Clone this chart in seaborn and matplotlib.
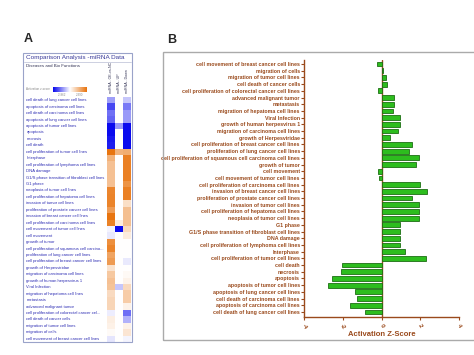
import matplotlib
matplotlib.use('Agg')
import matplotlib.pyplot as plt
import seaborn as sns
import numpy as np
import pandas as pd
from matplotlib.colors import LinearSegmentedColormap
from matplotlib.patches import Rectangle
from matplotlib.lines import Line2D

# functions, top to bottom as in panel B (panel A lists them in reverse)
functions = [
    'cell movement of breast cancer cell lines', 'migration of cells',
    'migration of tumor cell lines', 'cell death of cancer cells',
    'cell proliferation of colorectal cancer cell lines', 'advanced malignant tumor',
    'metastasis', 'migration of hepatoma cell lines', 'Viral Infection',
    'growth of human herpesvirus 1', 'migration of carcinoma cell lines',
    'growth of Herpesviridae', 'cell proliferation of breast cancer cell lines',
    'proliferation of lung cancer cell lines',
    'cell proliferation of squamous cell carcinoma cell lines', 'growth of tumor',
    'cell movement', 'cell movement of tumor cell lines',
    'cell proliferation of carcinoma cell lines', 'invasion of breast cancer cell lines',
    'proliferation of prostate cancer cell lines', 'invasion of tumor cell lines',
    'cell proliferation of hepatoma cell lines', 'neoplasia of tumor cell lines',
    'G1 phase', 'G1/S phase transition of fibroblast cell lines', 'DNA damage',
    'cell proliferation of lymphoma cell lines', 'Interphase',
    'cell proliferation of tumor cell lines', 'cell death', 'necrosis', 'apoptosis',
    'apoptosis of tumor cell lines', 'apoptosis of lung cancer cell lines',
    'cell death of carcinoma cell lines', 'apoptosis of carcinoma cell lines',
    'cell death of lung cancer cell lines',
]
z_oe = [-0.24, 0.08, 0.22, 0.26, -0.17, 0.66, 0.66, 0.57, 0.93, 0.98, 0.86, 0.45,
        1.57, 1.43, 1.93, 1.76, -0.20, -0.12, 1.97, 2.36, 1.55, 1.93, 1.95, 1.91,
        0.98, 0.98, 0.98, 0.98, 1.22, 2.31, -2.02, -2.07, -2.53, -2.76, -1.38, -1.28,
        -1.64, -0.86]
z_up = [0, 0, 0, 0, 0, 0, 0, 0, -0.5, 0, 0, 0,
        0, 0, 0, 0, 0, -2.8, 0.3, 0, 0, 0, 0, 0,
        0, 0, 0, 0, 0, 1.2, 0, 0, 0, -0.9, 0, 0,
        0, 0]
z_down = [-0.1, 0.4, 0.2, -0.7, -1.3, 0.2, 0.8, 0.8, 0.6, 0.2, 0.1, 0,
          -0.2, 0, 0, 0, 0.3, 0.6, 1.0, 1.0, 1.0, 0.5, 2.0, 2.0,
          1.7, 2.0, 2.0, 2.0, 2.0, 1.3, -2.4, -2.4, -2.5, -2.6, -0.9, -0.9,
          -1.2, -0.5]
columns = ['miRNA - OE-vs-NC', 'miRNA - UP', 'miRNA - Down']
score_range = [-2.862, 2.390]
xticks_b = [-4, -2, 0, 2, 4]

brown = '#9a4a1c'
blue_txt = '#2d2db4'

sns.set_theme(style='white')
plt.rcParams['font.family'] = ['Liberation Sans', 'DejaVu Sans']

W, H = 474, 355
fig = plt.figure(figsize=(4.74, 3.55), dpi=100)


def box(x0, y0, x1, y1):
    # pixel box -> figure fraction rect
    return [x0 / W, 1 - y1 / H, (x1 - x0) / W, (y1 - y0) / H]


def short(s):
    return s if len(s) <= 46 else s[:43] + '...'


# ---- panel A: comparison heatmap
cmap = LinearSegmentedColormap.from_list('bo', ['#0a0aee', '#ffffff', '#e8740f'])
heat = pd.DataFrame({columns[0]: z_oe, columns[1]: z_up, columns[2]: z_down},
                    index=functions).iloc[::-1]

ax_a = fig.add_axes(box(107, 97, 131, 342))
sns.heatmap(heat, ax=ax_a, cmap=cmap, center=0, vmin=-2.2, vmax=2.2,
            cbar=False, linewidths=0, xticklabels=columns,
            yticklabels=[short(s) for s in heat.index])
ax_a.tick_params(axis='y', length=0, pad=58, labelsize=3, labelcolor=blue_txt)
for t in ax_a.get_yticklabels():
    t.set_ha('left')
    t.set_rotation(0)
ax_a.xaxis.set_ticks_position('top')
ax_a.tick_params(axis='x', length=0, pad=3, labelsize=2.6, labeltop=True, labelbottom=False,
                 labelcolor='#333355')
for t in ax_a.get_xticklabels():
    t.set_rotation(90)
    t.set_va('bottom')
    t.set_ha('center')

fig.add_artist(Rectangle((23 / W, 1 - 342 / H), 109 / W, 289 / H, transform=fig.transFigure,
                         fill=False, ec='#9aa3c9', lw=0.8))
fig.text(26 / W, 1 - 57 / H, 'Comparison Analysis -miRNA Data', fontsize=4.6,
         color='#3a3a9a', va='center')
fig.add_artist(Line2D([24 / W, 131 / W], [1 - 61.5 / H] * 2, transform=fig.transFigure,
                      color='#c5c9dc', lw=0.6))
fig.text(26 / W, 1 - 66 / H, 'Diseases and Bio Functions', fontsize=3.2, color='#333355',
         va='center')

ax_leg = fig.add_axes(box(53, 87, 87, 92))
ax_leg.imshow(np.linspace(-1, 1, 100)[None, :], cmap=cmap, aspect='auto')
ax_leg.axis('off')
fig.text(26 / W, 1 - 89.5 / H, 'Activation z-score', fontsize=2.2, color='#888888', va='center')
fig.text(62 / W, 1 - 95 / H, f'{score_range[0]:.3f}', fontsize=2.2, color='#888888',
         va='center', ha='center')
fig.text(80 / W, 1 - 95 / H, f'{score_range[1]:.3f}', fontsize=2.2, color='#888888',
         va='center', ha='center')

# ---- panel B: activation z-score bars
fig.add_artist(Rectangle((163 / W, 1 - 340 / H), 320 / W, 288 / H, transform=fig.transFigure,
                         fill=False, ec='#aaaaaa', lw=1.0))

bars = pd.DataFrame({'function': functions, 'z': z_oe})
ax_b = fig.add_axes(box(304, 60, 459, 317))
sns.barplot(data=bars, x='z', y='function', ax=ax_b, color='#2dbd1e', saturation=1,
            edgecolor='#1d6e14', linewidth=0.6, width=0.72)
ax_b.set_xlim(-4, 4)
ax_b.set_ylim(37.75, -0.6)
ax_b.axvline(0, color=brown, lw=1.0, zorder=0.5)
for side in ['top', 'right']:
    ax_b.spines[side].set_visible(False)
for side in ['left', 'bottom']:
    ax_b.spines[side].set_color(brown)
    ax_b.spines[side].set_linewidth(1.0)
ax_b.set_xticks(xticks_b)
ax_b.set_xticklabels([str(v) for v in xticks_b], rotation=-60, fontsize=4.5,
                     fontweight='bold', color=brown, ha='center', va='top')
ax_b.tick_params(axis='x', bottom=True, length=2.5, width=0.8, color=brown, pad=1.5)
ax_b.tick_params(axis='y', left=True, length=2, width=0.8, color=brown, pad=1,
                 labelsize=3.75, labelcolor=brown)
for t in ax_b.get_yticklabels():
    t.set_fontweight('bold')
ax_b.set_ylabel('')
ax_b.set_xlabel('Activation Z-Score', fontsize=5.5, fontweight='bold', color=brown, labelpad=1)

fig.text(28 / W, 1 - 39 / H, 'A', fontsize=9, fontweight='bold', ha='center', va='center')
fig.text(172 / W, 1 - 40 / H, 'B', fontsize=9, fontweight='bold', ha='center', va='center')

fig.savefig('out.png', dpi=100)
